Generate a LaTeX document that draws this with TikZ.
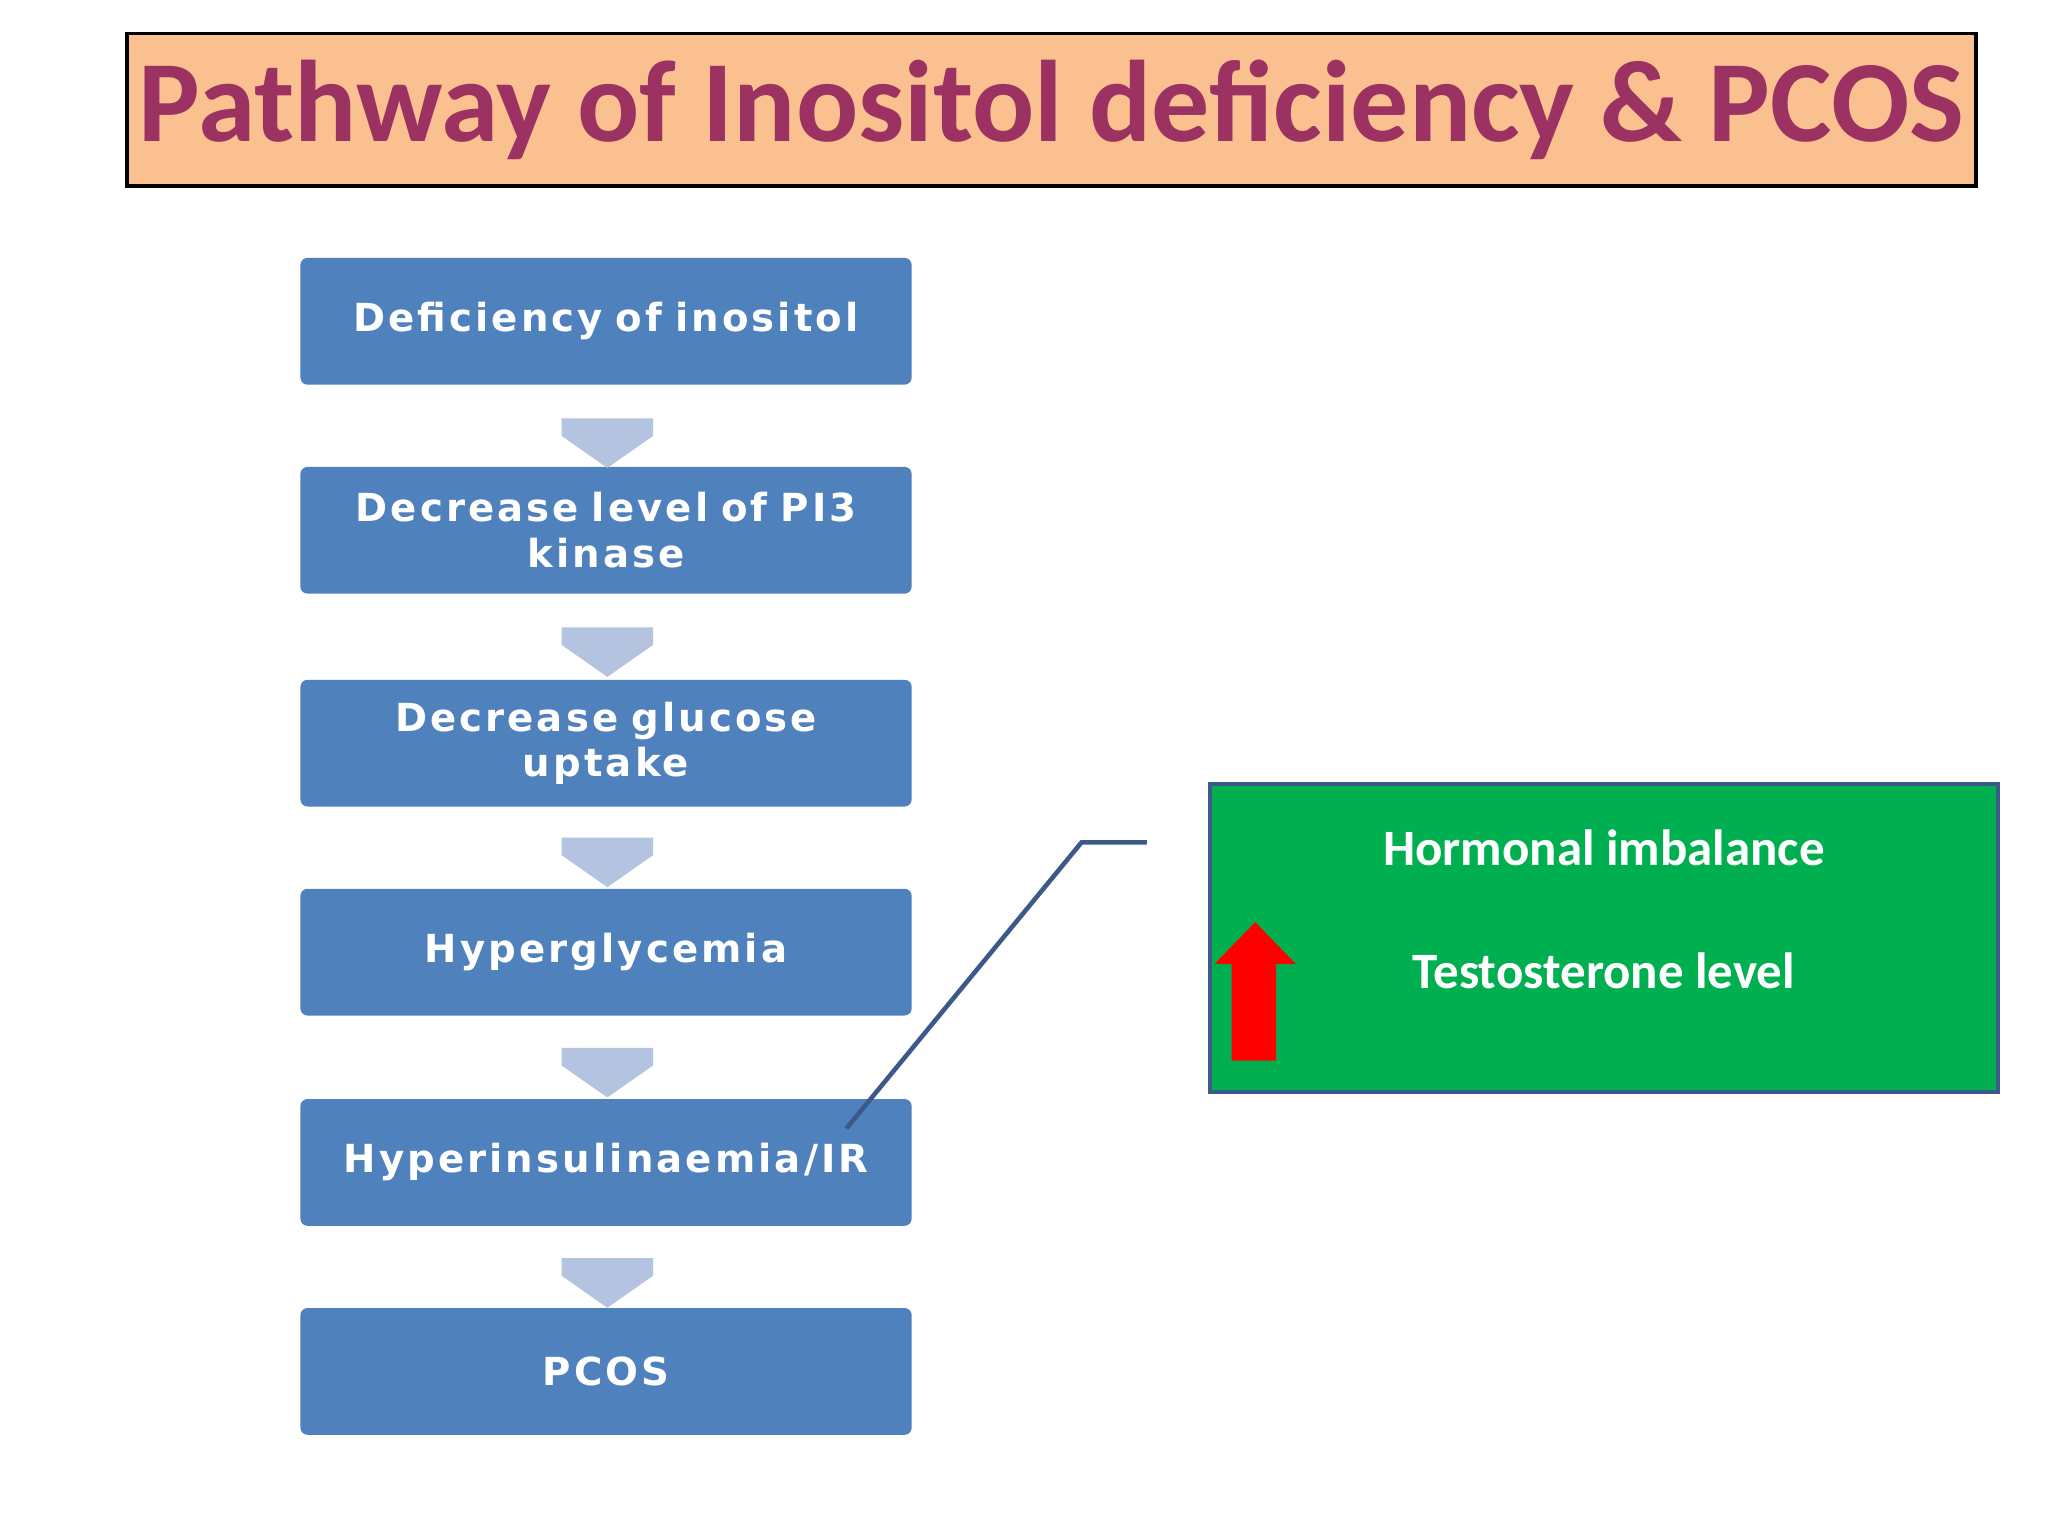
\documentclass[tikz,border=0pt]{standalone}
\usepackage{fontspec}
\setmainfont{Carlito}
\newfontfamily\boxfont[LetterSpace=8]{DejaVu Sans}
\usetikzlibrary{shapes.arrows}
\definecolor{titlec}{HTML}{9B3262}
\definecolor{titlebg}{HTML}{FAC090}
\definecolor{bluebox}{HTML}{4F81BD}
\definecolor{arrowc}{HTML}{B4C4E0}
\definecolor{greenc}{HTML}{00B050}
\definecolor{linec}{HTML}{3B5A8A}
\begin{document}
\begin{tikzpicture}[x=0.013061cm,y=-0.013061cm,
  flowbox/.style={fill=bluebox,rounded corners=2pt,minimum width=468*0.013061cm,minimum height=97*0.013061cm,text=white,font=\boxfont\bfseries\fontsize{11}{13}\selectfont,align=center,text width=440*0.013061cm},
  darr/.style={single arrow,shape border rotate=270,fill=arrowc,minimum width=70*0.013061cm,single arrow head extend=0pt,minimum height=38*0.013061cm,inner sep=0pt,single arrow tip angle=110}]
\useasboundingbox (0,0) rectangle (1568,1176);
\fill[white] (0,0) rectangle (1568,1176);
\node[draw=black,fill=titlebg,line width=1pt,minimum width=1402*0.013061cm,minimum height=117*0.013061cm,text=titlec,font=\bfseries\fontsize{33}{38}\selectfont] (title) at (805,84) {Pathway of Inositol deficiency \& PCOS};
\node[flowbox] (b1) at (464,246) {Deficiency of inositol};
\node[flowbox] (b2) at (464,406) {Decrease level of PI3\\kinase};
\node[flowbox] (b3) at (464,569) {Decrease glucose\\uptake};
\node[flowbox] (b4) at (464,729) {Hyperglycemia};
\node[flowbox] (b5) at (464,890) {Hyperinsulinaemia/IR};
\node[flowbox] (b6) at (464,1050) {PCOS};
\foreach \y in {327,487,648,809,970} \node[darr] at (465,\y) {};
\node[draw=linec,line width=1.2pt,fill=greenc,minimum width=603*0.013061cm,minimum height=236*0.013061cm] (g) at (1228,718) {};
\node[text=white,font=\bfseries\fontsize{14.5}{17}\selectfont] (t1) at (1228,649) {Hormonal imbalance};
\node[text=white,font=\bfseries\fontsize{14.5}{17}\selectfont] (t2) at (1228,743) {Testosterone level};
\fill[red] (943,812) -- (943,738) -- (930,738) -- (961,706) -- (992,738) -- (977,738) -- (977,812) -- cycle;
\coordinate (c1) at (648,864);
\coordinate (c2) at (828,645);
\coordinate (c3) at (878,645);
\draw[linec,line width=1.3pt] (c1) -- (c2) -- (c3);
\end{tikzpicture}
\end{document}
